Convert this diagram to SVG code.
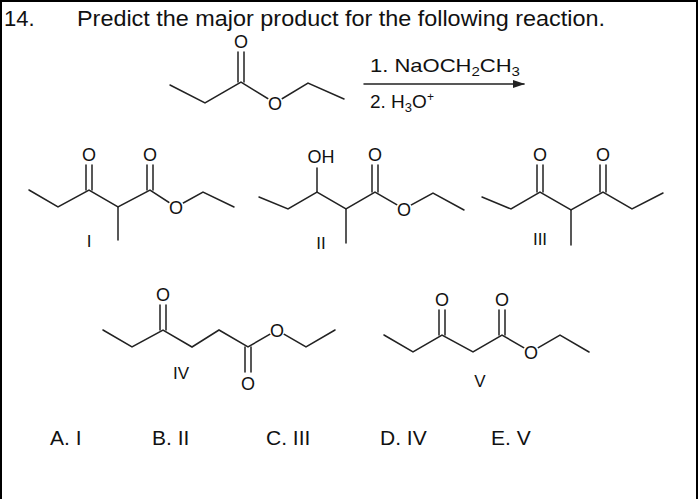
<svg xmlns="http://www.w3.org/2000/svg" width="700" height="499" viewBox="0 0 700 499">
<style>
.b{stroke:#222;stroke-width:1.5;fill:none;stroke-linecap:round}
.t{font-family:"Liberation Sans",Arial,sans-serif;fill:#111}
.o{font-size:18px;text-anchor:middle}
.bg{fill:#fff}
</style>
<defs><marker id="ah" markerWidth="12" markerHeight="8" refX="11" refY="4" orient="auto" markerUnits="userSpaceOnUse"><path d="M0,0L12,4L0,8z" fill="#222"/></marker></defs>
<rect x="0" y="0" width="699" height="499" fill="#fff"/>
<path d="M1,499V1H697V499" stroke="#000" stroke-width="2" fill="none"/>
<text class="t" x="4" y="26" font-size="22">14.</text>
<text class="t" x="77" y="26" font-size="22" textLength="528" lengthAdjust="spacingAndGlyphs">Predict the major product for the following reaction.</text>
<g id="start">
<polyline class="b" points="170,85 205,103 241,82 275,103 308,83 344,99"/>
<path class="b" d="M238,82V52M244,82V52"/>
<circle class="bg" cx="275" cy="103" r="8"/>
<text class="t o" x="241" y="48">O</text><text class="t o" x="275" y="110">O</text>
</g>
<g id="connectors"><line class="b" x1="364" y1="84" x2="524" y2="84" marker-end="url(#ah)"/></g>
<text class="t" x="370" y="72" font-size="19" textLength="150" lengthAdjust="spacingAndGlyphs">1. NaOCH<tspan font-size="13" dy="4">2</tspan><tspan dy="-4">CH</tspan><tspan font-size="13" dy="4">3</tspan></text>
<text class="t" x="370" y="108" font-size="19">2. H<tspan font-size="13" dy="4">3</tspan><tspan dy="-4">O</tspan><tspan font-size="12" dy="-7">+</tspan></text>
<g id="I">
<polyline class="b" points="29,190 58,207 89,190 118,207 150,190 176,207 203,192 234,207"/>
<path class="b" d="M118,207V240M86,190V165M92,190V165M147,190V165M153,190V165"/>
<circle class="bg" cx="176" cy="207" r="8"/>
<text class="t o" x="89" y="161">O</text><text class="t o" x="150" y="161">O</text><text class="t o" x="176" y="214">O</text>
<text class="t" x="89" y="247" font-size="17" text-anchor="middle">I</text>
</g>
<g id="II">
<polyline class="b" points="259,197 288,209 317,192 346,209 375,192 404,209 433,193 464,210"/>
<path class="b" d="M346,209V243M317,192V168M372,192V165M378,192V165"/>
<circle class="bg" cx="404" cy="209" r="8"/>
<text class="t o" x="321" y="163">OH</text><text class="t o" x="375" y="161">O</text><text class="t o" x="404" y="216">O</text>
<text class="t" x="321" y="249" font-size="17" text-anchor="middle">II</text>
</g>
<g id="III">
<polyline class="b" points="482,197 511,209 540,192 571,210 603,192 632,209 663,193"/>
<path class="b" d="M571,210V245M537,192V165M543,192V165M600,192V165M606,192V165"/>
<text class="t o" x="540" y="161">O</text><text class="t o" x="603" y="161">O</text>
<text class="t" x="540" y="245" font-size="17" text-anchor="middle">III</text>
</g>
<g id="IV">
<polyline class="b" points="103,330 132,347 163,330 192,347 219,330 248,347 277,330 306,347 335,330"/>
<path class="b" d="M160,330V305M166,330V305M245,347V372M251,347V372"/>
<circle class="bg" cx="277" cy="330" r="8"/>
<text class="t o" x="163" y="301">O</text><text class="t o" x="248" y="390">O</text><text class="t o" x="277" y="337">O</text>
<text class="t" x="181" y="379" font-size="17" text-anchor="middle">IV</text>
</g>
<g id="V">
<polyline class="b" points="384,335 413,352 442,335 473,352 502,335 531,352 560,335 589,352"/>
<path class="b" d="M439,335V310M445,335V310M499,335V310M505,335V310"/>
<circle class="bg" cx="531" cy="352" r="8"/>
<text class="t o" x="442" y="306">O</text><text class="t o" x="502" y="306">O</text><text class="t o" x="531" y="359">O</text>
<text class="t" x="480" y="387" font-size="17" text-anchor="middle">V</text>
</g>
<g class="t" font-size="21">
<text x="50" y="445">A.  I</text><text x="152" y="445">B. II</text><text x="266" y="445">C. III</text><text x="380" y="445">D. IV</text><text x="491" y="445">E. V</text>
</g>
</svg>
